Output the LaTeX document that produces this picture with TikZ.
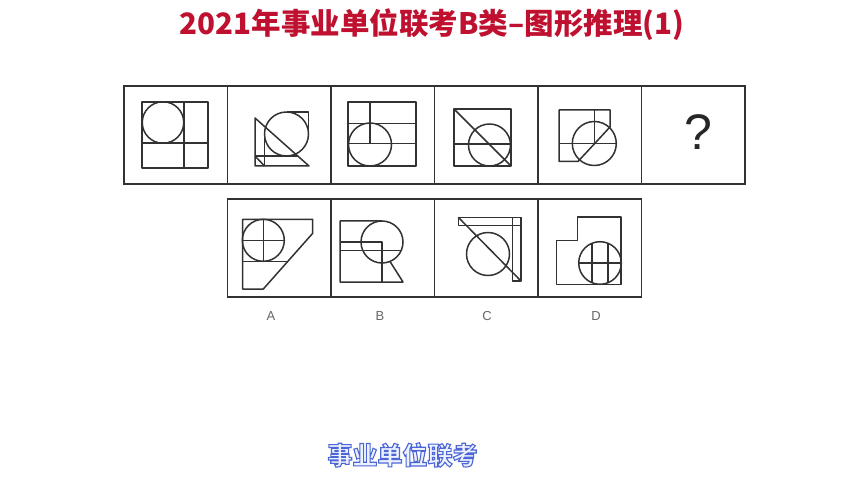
\documentclass[tikz,border=0pt]{standalone}
\usepackage{fontspec}
\setmainfont{Liberation Sans}
\newfontfamily\cjk{Noto Sans CJK SC}
\usetikzlibrary{positioning}

\definecolor{titlered}{RGB}{192,16,48}
\definecolor{linegray}{RGB}{50,50,50}
\definecolor{subfill}{RGB}{236,240,255}
\newcommand\outlinetext[1]{\special{pdf:code q 2 Tr 1.1 w 0.30 0.40 0.84 RG}#1\special{pdf:code Q}}

\begin{document}
\begin{tikzpicture}[x=1pt, y=-1pt,
    cell/.style={draw=linegray, line width=1.5pt, minimum width=103.5pt, minimum height=98pt, inner sep=0pt, outer sep=0pt},
    fig/.style={draw=linegray, line width=1.5pt, line join=round},
    choice/.style={font=\fontsize{13}{13}\selectfont, text=black!60},
    title/.style={font=\cjk\bfseries\fontsize{29.5}{29.5}\selectfont, text=titlered},
    node distance=0pt
]
\fill[white] (0,0) rectangle (864,486);
\useasboundingbox (0,0) rectangle (864,486);

% Title
\node[title] (title) at (432,25) {2021年事业单位联考B类–图形推理(1)};

% Question row
\node[cell] (q1) at (175.75,135) {};
\node[cell, right=of q1] (q2) {};
\node[cell, right=of q2] (q3) {};
\node[cell, right=of q3] (q4) {};
\node[cell, right=of q4] (q5) {};
\node[cell, right=of q5] (q6) {};
\node[font=\fontsize{50}{50}\selectfont, text=black!85] (qmark) at (698,132) {?};

% Options row
\node[cell, below=15pt of q2] (a) {};
\node[cell, right=of a] (b) {};
\node[cell, right=of b] (c) {};
\node[cell, right=of c] (d) {};
\node[choice] (la) at (271,316) {A};
\node[choice] (lb) at (380,316) {B};
\node[choice] (lc) at (487,316) {C};
\node[choice] (ld) at (596,316) {D};

% Figure 1
\draw[fig] (142,102) rectangle (208,168);
\draw[fig] (184,102) -- (184,168);
\draw[fig] (142,143) -- (208,143);
\draw[fig] (163,122.5) circle[radius=20.75];

% Figure 2
\draw[fig] (255,118) -- (255,166) -- (309,166) -- cycle;
\draw[fig] (286.5,134) circle[radius=22];
\draw[fig] (286.5,112) -- (308.5,112) -- (308.5,134);
\draw[fig] (264.5,134) -- (264.5,166);
\draw[fig] (255,156) -- (297.75,156);
\draw[fig] (255,156) -- (264.5,166);

% Figure 3
\draw[fig] (348,102) rectangle (416,166);
\draw[fig] (348,123.5) -- (416,123.5);
\draw[fig] (348,143.5) -- (416,143.5);
\draw[fig] (370,102) -- (370,143.5);
\draw[fig] (370,144.5) circle[radius=21.5];

% Figure 4
\draw[fig] (454,109) rectangle (511,166);
\draw[fig] (454,109) -- (511,166);
\draw[fig] (454,144) -- (511,144);
\draw[fig] (489.5,145) circle[radius=21];

% Figure 5
\draw[fig] (559,110) -- (610,110) -- (610,127) -- (578,161.5) -- (559,161.5) -- cycle;
\draw[fig] (559,143.5) -- (616.3,143.5);
\draw[fig] (594.3,110) -- (594.3,143.5);
\draw[fig] (594.3,143.5) circle[radius=22];

% Option A
\draw[fig] (242.7,219.3) -- (312.7,219.3) -- (312.7,233.3) -- (263.3,289) -- (242.7,289) -- cycle;
\draw[fig] (263.3,240.3) circle[radius=21];
\draw[fig] (263.3,219.3) -- (263.3,261.3);
\draw[fig] (242.3,240.3) -- (284.3,240.3);
\draw[fig] (242.7,261.3) -- (287.9,261.3);

% Option B
\draw[fig] (382,221) -- (340,221) -- (340,282) -- (403,282) -- (390,261.5);
\draw[fig] (382,242) circle[radius=21];
\draw[fig] (340,242) -- (382,242) -- (382,282);
\draw[fig] (340,250.5) -- (401.2,250.5);

% Option C
\draw[fig] (458.3,217.3) rectangle (521,225.7);
\draw[fig] (512.7,217.3) rectangle (521,281);
\draw[fig] (458.3,217.3) -- (521,281);
\draw[fig] (488,254) circle[radius=21.5];

% Option D
\draw[fig] (577.5,217) -- (621,217) -- (621,284.3) -- (556.7,284.3) -- (556.7,240.5) -- (577.5,240.5) -- cycle;
\draw[fig] (600,263) circle[radius=21.3];
\draw[fig] (578.7,263) -- (621.3,263);
\draw[fig] (592,243.3) -- (592,282.7);
\draw[fig] (608,243.3) -- (608,282.7);

% Caption
\node[font=\cjk\bfseries\fontsize{25}{25}\selectfont, text=subfill] (caption) at (402.5,455) {\outlinetext{事业单位联考}};
\end{tikzpicture}
\end{document}
